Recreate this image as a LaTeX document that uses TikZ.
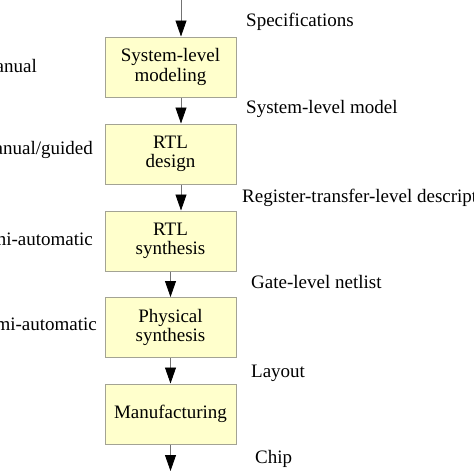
\documentclass[tikz,border=0pt]{standalone}
\usepackage{fontspec}
\setmainfont{Liberation Serif}
\usetikzlibrary{arrows.meta}
\definecolor{boxfill}{HTML}{FFFFCC}
\definecolor{boxgray}{HTML}{A3A394}
\begin{document}
\begin{tikzpicture}[x=1pt,y=-1pt,
 stage/.style={draw=boxgray, fill=boxfill, line width=1pt, minimum width=131pt, minimum height=60pt, inner sep=0pt, align=center, font=\fontsize{19}{19.5}\selectfont},
 lbl/.style={font=\fontsize{19}{20}\selectfont, inner sep=0pt},
 flow/.style={draw=black!55, line width=0.8pt, -{Triangle[length=16pt,width=11pt,color=black]}}]
\useasboundingbox (0,0) rectangle (474,474);
\clip (0,0) rectangle (474,474);
\node[stage] (s1) at (170.5,67) {System-level\\modeling};
\node[stage] (s2) at (170.5,154) {RTL\\design};
\node[stage] (s3) at (170.5,241) {RTL\\synthesis};
\node[stage] (s4) at (170.5,327.5) {Physical\\synthesis};
\node[stage] (s5) at (170.5,414) {Manufacturing};
\coordinate (in) at (181,0);
\coordinate (out) at (170.5,471);
\draw[flow] (in) -- ([xshift=10.5pt]s1.north);
\draw[flow] ([xshift=10.5pt]s1.south) -- ([xshift=10.5pt]s2.north);
\draw[flow] ([xshift=10.5pt]s2.south) -- ([xshift=10.5pt]s3.north);
\draw[flow] (s3.south) -- (s4.north);
\draw[flow] (s4.south) -- (s5.north);
\draw[flow] (s5.south) -- (out);
\node[lbl, anchor=base west] (l0) at (246,26) {Specifications};
\node[lbl, anchor=base west] (l1) at (246,113) {System-level model};
\node[lbl, anchor=base west] (l2) at (242,202) {Register-transfer-level description};
\node[lbl, anchor=base west] (l3) at (251,288) {Gate-level netlist};
\node[lbl, anchor=base west] (l4) at (251,377) {Layout};
\node[lbl, anchor=base west] (l5) at (255,463) {Chip};
\node[lbl, anchor=base east] (m1) at (37,72) {Manual};
\node[lbl, anchor=base east] (m2) at (93,154) {Manual/guided};
\node[lbl, anchor=base east] (m3) at (93,245) {Semi-automatic};
\node[lbl, anchor=base east] (m4) at (97,330) {Semi-automatic};
\end{tikzpicture}
\end{document}
